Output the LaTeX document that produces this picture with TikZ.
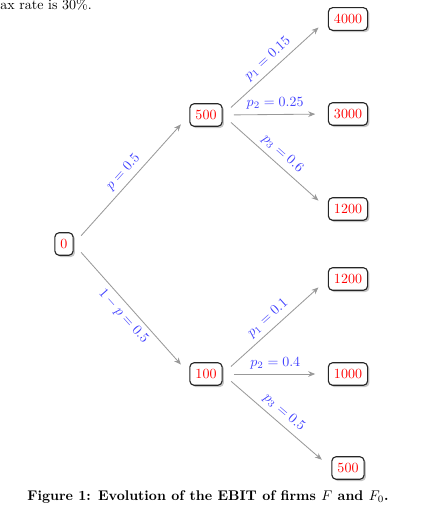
\documentclass[tikz,border=0pt]{standalone}
\usetikzlibrary{shadows,arrows.meta}
\begin{document}
\begin{tikzpicture}[x=0.714pt,y=-0.714pt,
  valbox/.style={draw=black!85, thick, rounded corners=3pt, fill=white,
    drop shadow={shadow xshift=1.3pt, shadow yshift=-1.3pt, opacity=0.45},
    text=red, inner xsep=4pt, inner ysep=4.6pt},
  branch/.style={draw=black!40, semithick, -{Stealth[length=5pt,width=4pt]},
    shorten <=8pt, shorten >=9pt},
  prob/.style={text=blue!75, midway, sloped}]
\useasboundingbox (0,0) rectangle (431,516);
\node[anchor=base west, inner sep=0pt] (top) at (0,10) {ax rate is 30\%.};
\node[valbox] (r) at (64,244) {0};
\node[valbox] (a) at (206,115) {500};
\node[valbox] (b) at (206,374) {100};
\node[valbox] (a1) at (348,19) {4000};
\node[valbox] (a2) at (348,114) {3000};
\node[valbox] (a3) at (348,209) {1200};
\node[valbox] (b1) at (348,279) {1200};
\node[valbox] (b2) at (348,374) {1000};
\node[valbox] (b3) at (348,468) {500};
\draw[branch] (r.east) -- (a.west) node[prob, above] {$p = 0.5$};
\draw[branch] (r.east) -- (b.west) node[prob, below] {$1-p = 0.5$};
\draw[branch] (a.east) -- (a1.west) node[prob, above] {$p_1 = 0.15$};
\draw[branch] (a.east) -- (a2.west) node[prob, above] {$p_2 = 0.25$};
\draw[branch] (a.east) -- (a3.west) node[prob, above] {$p_3 = 0.6$};
\draw[branch] (b.east) -- (b1.west) node[prob, above] {$p_1 = 0.1$};
\draw[branch] (b.east) -- (b2.west) node[prob, above] {$p_2 = 0.4$};
\draw[branch] (b.east) -- (b3.west) node[prob, above] {$p_3 = 0.5$};
\node (cap) at (208,497) {\textbf{Figure 1: Evolution of the EBIT of firms $F$ and $F_0$.}};
\end{tikzpicture}
\end{document}
